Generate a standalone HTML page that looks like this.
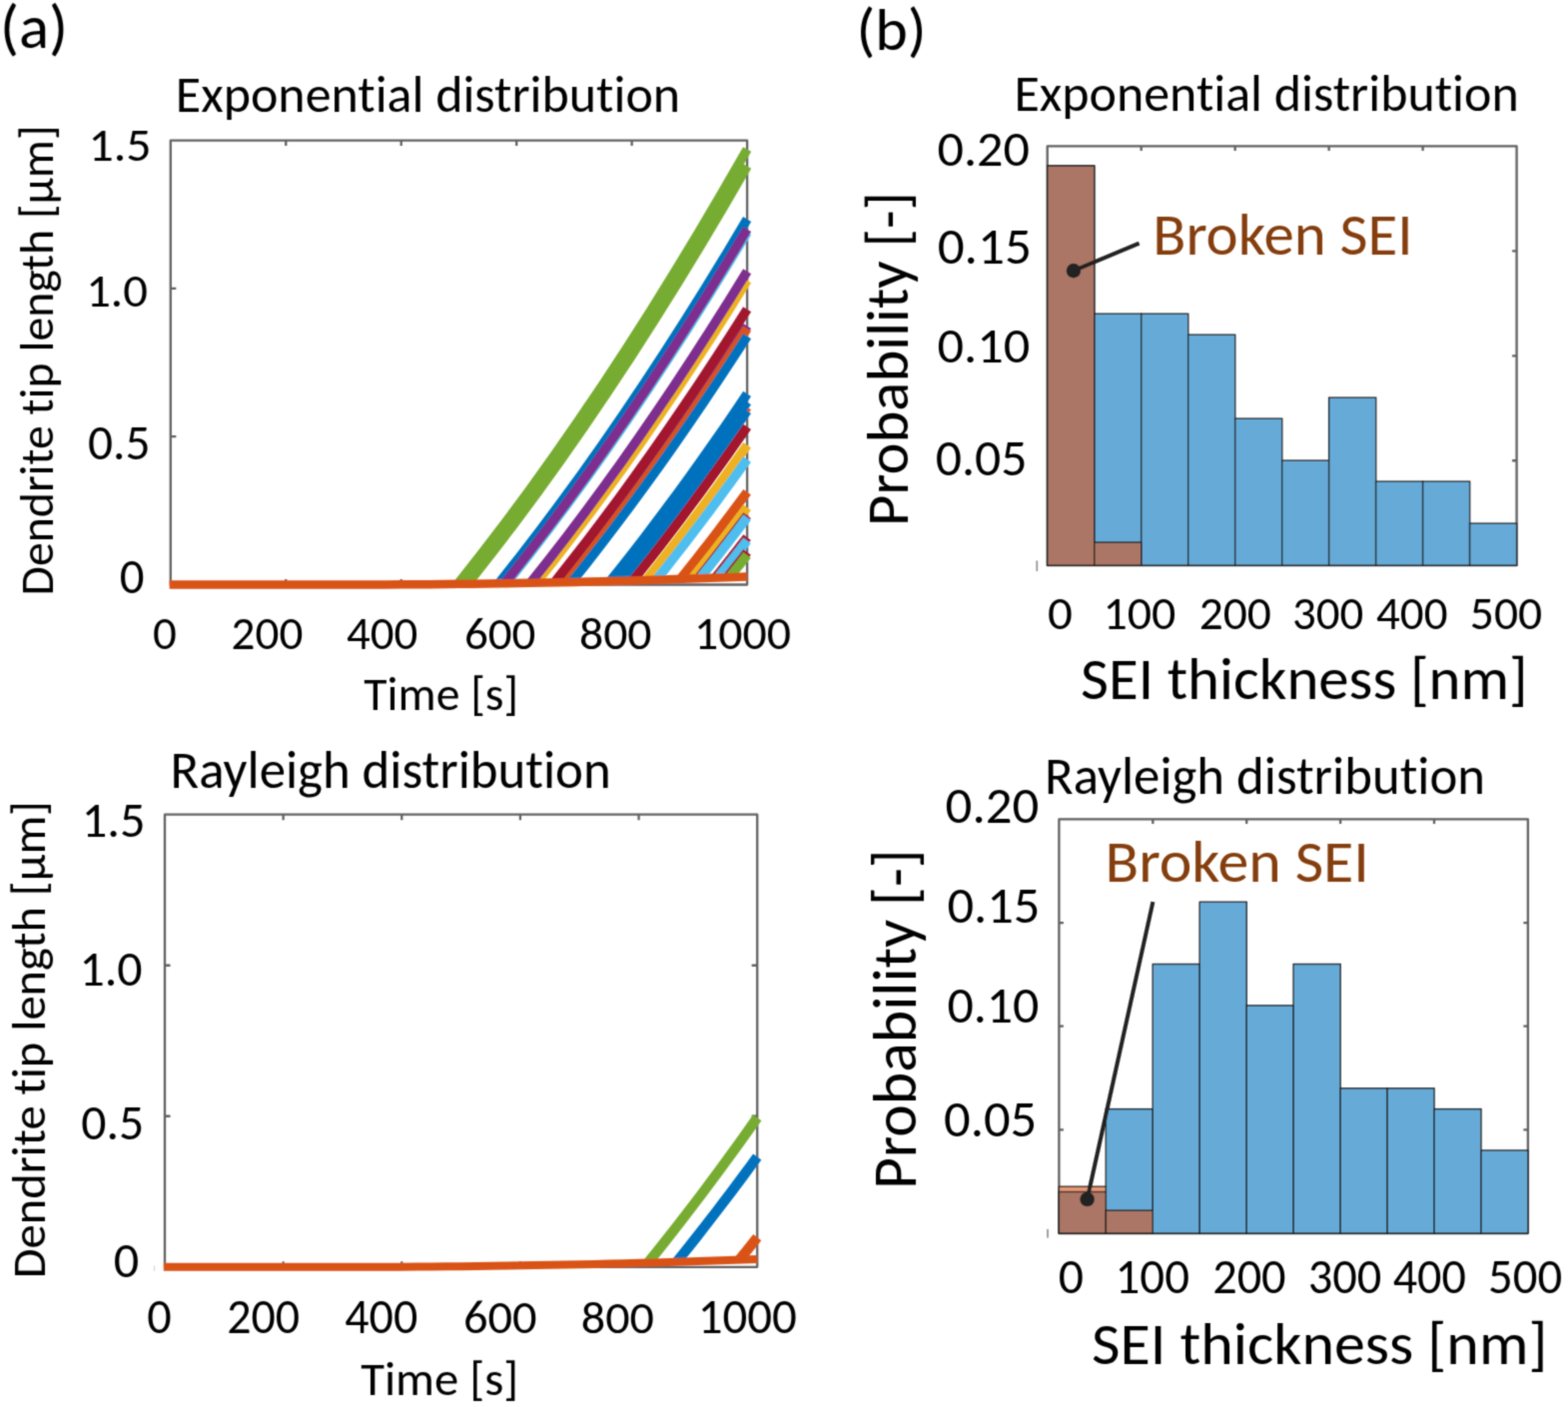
<!DOCTYPE html><html><head><meta charset="utf-8"><title>Figure</title><style>html,body{margin:0;padding:0;background:#fff;}svg{display:block;}text{font-family:Carlito, 'Liberation Sans', 'DejaVu Sans', sans-serif;font-variant-ligatures:none;font-size-adjust:0.4775;font-feature-settings:"liga" 0,"clig" 0,"kern" 1;}</style></head><body>
<svg width="1570" height="1409" viewBox="0 0 1570 1409">
<defs><filter id="soft" x="0" y="0" width="1570" height="1409" filterUnits="userSpaceOnUse"><feConvolveMatrix order="3" kernelMatrix="0.03607 0.11778 0.03607 0.11778 0.38462 0.11778 0.03607 0.11778 0.03607" edgeMode="duplicate" preserveAlpha="false"/></filter></defs>
<rect width="1570" height="1409" fill="#fff"/>
<g filter="url(#soft)">
<rect x="170.8" y="140.6" width="577.30" height="444.90" fill="none" stroke="#606060" stroke-width="2.3" stroke-linejoin="round"/>
<path d="M286.26 140.60V146.10M286.26 585.50V580.00M401.72 140.60V146.10M401.72 585.50V580.00M517.18 140.60V146.10M517.18 585.50V580.00M632.64 140.60V146.10M632.64 585.50V580.00M170.80 437.20H176.30M748.10 437.20H742.60M170.80 288.90H176.30M748.10 288.90H742.60" stroke="#606060" stroke-width="2.3" fill="none"/>
<path d="M458.42 584.86 L482.56 554.27 L506.70 522.64 L530.84 489.98 L554.98 456.28 L579.12 421.55 L603.26 385.79 L627.40 348.99 L651.54 311.16 L675.68 272.30 L699.82 232.40 L723.96 191.47 L748.10 149.50" stroke="#77AC30" stroke-width="9.4" fill="none" stroke-linejoin="round" stroke-linecap="butt"/>
<path d="M468.14 584.74 L491.47 555.19 L514.80 524.68 L538.13 493.20 L561.46 460.75 L584.79 427.34 L608.12 392.96 L631.45 357.62 L654.78 321.30 L678.11 284.03 L701.44 245.79 L724.77 206.58 L748.10 166.40" stroke="#77AC30" stroke-width="9.4" fill="none" stroke-linejoin="round" stroke-linecap="butt"/>
<path d="M499.35 584.32 L520.08 558.11 L540.81 531.14 L561.54 503.41 L582.27 474.91 L603.00 445.65 L623.72 415.63 L644.45 384.85 L665.18 353.30 L685.91 321.00 L706.64 287.92 L727.37 254.09 L748.10 219.50" stroke="#0072BD" stroke-width="9.4" fill="none" stroke-linejoin="round" stroke-linecap="butt"/>
<path d="M507.19 584.19 L527.26 558.82 L547.34 532.74 L567.42 505.94 L587.49 478.42 L607.57 450.19 L627.64 421.24 L647.72 391.58 L667.80 361.21 L687.87 330.11 L707.95 298.31 L728.02 265.78 L748.10 232.55" stroke="#4DBEEE" stroke-width="9.4" fill="none" stroke-linejoin="round" stroke-linecap="butt"/>
<path d="M505.40 584.22 L525.63 558.66 L545.85 532.37 L566.08 505.36 L586.30 477.62 L606.53 449.16 L626.75 419.97 L646.98 390.05 L667.20 359.41 L687.43 328.04 L707.65 295.95 L727.88 263.13 L748.10 229.58" stroke="#7E2F8E" stroke-width="9.4" fill="none" stroke-linejoin="round" stroke-linecap="butt"/>
<path d="M536.85 583.68 L554.46 561.47 L572.06 538.71 L589.67 515.40 L607.27 491.55 L624.87 467.14 L642.48 442.18 L660.08 416.68 L677.68 390.62 L695.29 364.01 L712.89 336.86 L730.50 309.15 L748.10 280.89" stroke="#EDB120" stroke-width="9.4" fill="none" stroke-linejoin="round" stroke-linecap="butt"/>
<path d="M531.13 583.78 L549.21 560.97 L567.29 537.57 L585.38 513.59 L603.46 489.04 L621.54 463.90 L639.62 438.18 L657.70 411.88 L675.78 385.01 L693.86 357.55 L711.94 329.51 L730.02 300.89 L748.10 271.70" stroke="#7E2F8E" stroke-width="9.4" fill="none" stroke-linejoin="round" stroke-linecap="butt"/>
<path d="M565.86 583.09 L581.05 563.96 L596.23 544.43 L611.42 524.48 L626.61 504.13 L641.79 483.37 L656.98 462.19 L672.17 440.61 L687.35 418.62 L702.54 396.22 L717.73 373.41 L732.91 350.20 L748.10 326.57" stroke="#7E2F8E" stroke-width="9.4" fill="none" stroke-linejoin="round" stroke-linecap="butt"/>
<path d="M555.01 583.32 L571.10 563.04 L587.19 542.30 L603.28 521.11 L619.37 499.45 L635.46 477.33 L651.55 454.76 L667.64 431.73 L683.74 408.23 L699.83 384.28 L715.92 359.87 L732.01 334.99 L748.10 309.66" stroke="#A2142F" stroke-width="9.4" fill="none" stroke-linejoin="round" stroke-linecap="butt"/>
<path d="M567.40 583.05 L582.45 564.09 L597.51 544.72 L612.57 524.96 L627.63 504.79 L642.69 484.21 L657.75 463.24 L672.81 441.86 L687.87 420.08 L702.92 397.90 L717.98 375.32 L733.04 352.33 L748.10 328.94" stroke="#D95319" stroke-width="9.4" fill="none" stroke-linejoin="round" stroke-linecap="butt"/>
<path d="M572.40 582.94 L587.05 564.51 L601.69 545.70 L616.33 526.50 L630.97 506.93 L645.61 486.98 L660.25 466.64 L674.89 445.93 L689.53 424.84 L704.18 403.36 L718.82 381.50 L733.46 359.27 L748.10 336.65" stroke="#0072BD" stroke-width="9.4" fill="none" stroke-linejoin="round" stroke-linecap="butt"/>
<path d="M619.96 581.77 L630.63 568.36 L641.31 554.75 L651.99 540.94 L662.67 526.93 L673.35 512.71 L684.03 498.30 L694.71 483.68 L705.39 468.85 L716.06 453.83 L726.74 438.60 L737.42 423.17 L748.10 407.54" stroke="#D95319" stroke-width="9.4" fill="none" stroke-linejoin="round" stroke-linecap="butt"/>
<path d="M610.98 582.00 L622.41 567.65 L633.84 553.07 L645.26 538.25 L656.69 523.21 L668.12 507.93 L679.54 492.42 L690.97 476.68 L702.39 460.70 L713.82 444.50 L725.25 428.06 L736.67 411.39 L748.10 394.49" stroke="#0072BD" stroke-width="9.4" fill="none" stroke-linejoin="round" stroke-linecap="butt"/>
<path d="M616.48 581.86 L627.45 568.09 L638.41 554.10 L649.38 539.90 L660.35 525.49 L671.32 510.86 L682.29 496.02 L693.26 480.97 L704.23 465.70 L715.19 450.22 L726.16 434.53 L737.13 418.62 L748.10 402.50" stroke="#0072BD" stroke-width="9.4" fill="none" stroke-linejoin="round" stroke-linecap="butt"/>
<path d="M622.63 581.69 L633.08 568.57 L643.54 555.25 L653.99 541.74 L664.45 528.03 L674.91 514.13 L685.36 500.04 L695.82 485.75 L706.28 471.27 L716.73 456.59 L727.19 441.72 L737.64 426.65 L748.10 411.40" stroke="#0072BD" stroke-width="9.4" fill="none" stroke-linejoin="round" stroke-linecap="butt"/>
<path d="M633.82 581.38 L643.34 569.44 L652.87 557.33 L662.39 545.06 L671.91 532.63 L681.44 520.04 L690.96 507.29 L700.48 494.38 L710.01 481.31 L719.53 468.08 L729.05 454.68 L738.58 441.13 L748.10 427.41" stroke="#A2142F" stroke-width="9.4" fill="none" stroke-linejoin="round" stroke-linecap="butt"/>
<path d="M646.88 581.00 L655.32 570.43 L663.75 559.73 L672.19 548.91 L680.62 537.95 L689.06 526.88 L697.49 515.67 L705.93 504.34 L714.36 492.89 L722.80 481.31 L731.23 469.60 L739.67 457.76 L748.10 445.80" stroke="#EDB120" stroke-width="9.4" fill="none" stroke-linejoin="round" stroke-linecap="butt"/>
<path d="M657.15 580.69 L664.73 571.20 L672.31 561.60 L679.89 551.90 L687.47 542.10 L695.05 532.20 L702.63 522.20 L710.20 512.09 L717.78 501.89 L725.36 491.58 L732.94 481.17 L740.52 470.65 L748.10 460.04" stroke="#4DBEEE" stroke-width="9.4" fill="none" stroke-linejoin="round" stroke-linecap="butt"/>
<path d="M681.25 579.92 L686.82 572.95 L692.39 565.93 L697.96 558.85 L703.53 551.72 L709.10 544.53 L714.67 537.28 L720.24 529.99 L725.82 522.63 L731.39 515.22 L736.96 507.76 L742.53 500.24 L748.10 492.66" stroke="#D95319" stroke-width="9.4" fill="none" stroke-linejoin="round" stroke-linecap="butt"/>
<path d="M692.93 579.53 L697.52 573.78 L702.12 568.00 L706.72 562.18 L711.32 556.32 L715.92 550.42 L720.51 544.48 L725.11 538.51 L729.71 532.50 L734.31 526.45 L738.90 520.37 L743.50 514.25 L748.10 508.09" stroke="#EDB120" stroke-width="9.4" fill="none" stroke-linejoin="round" stroke-linecap="butt"/>
<path d="M699.07 579.32 L703.15 574.21 L707.24 569.08 L711.33 563.91 L715.41 558.72 L719.50 553.49 L723.58 548.24 L727.67 542.96 L731.76 537.64 L735.84 532.30 L739.93 526.93 L744.01 521.53 L748.10 516.10" stroke="#A2142F" stroke-width="9.4" fill="none" stroke-linejoin="round" stroke-linecap="butt"/>
<path d="M700.67 579.26 L704.62 574.32 L708.57 569.36 L712.53 564.36 L716.48 559.34 L720.43 554.29 L724.38 549.22 L728.34 544.11 L732.29 538.98 L736.24 533.82 L740.19 528.63 L744.15 523.42 L748.10 518.17" stroke="#4DBEEE" stroke-width="9.4" fill="none" stroke-linejoin="round" stroke-linecap="butt"/>
<path d="M716.19 578.71 L718.85 575.39 L721.51 572.06 L724.17 568.71 L726.83 565.35 L729.48 561.98 L732.14 558.60 L734.80 555.21 L737.46 551.80 L740.12 548.38 L742.78 544.95 L745.44 541.50 L748.10 538.04" stroke="#A2142F" stroke-width="9.4" fill="none" stroke-linejoin="round" stroke-linecap="butt"/>
<path d="M718.77 578.61 L721.21 575.56 L723.66 572.50 L726.10 569.43 L728.55 566.35 L730.99 563.25 L733.43 560.15 L735.88 557.04 L738.32 553.91 L740.77 550.78 L743.21 547.63 L745.66 544.47 L748.10 541.31" stroke="#4DBEEE" stroke-width="9.4" fill="none" stroke-linejoin="round" stroke-linecap="butt"/>
<path d="M728.01 578.27 L729.68 576.18 L731.35 574.09 L733.03 571.99 L734.70 569.88 L736.38 567.77 L738.05 565.66 L739.73 563.54 L741.40 561.42 L743.08 559.29 L744.75 557.16 L746.43 555.02 L748.10 552.87" stroke="#A2142F" stroke-width="9.4" fill="none" stroke-linejoin="round" stroke-linecap="butt"/>
<path d="M730.39 578.18 L731.87 576.34 L733.34 574.49 L734.82 572.65 L736.30 570.79 L737.77 568.94 L739.25 567.08 L740.72 565.22 L742.20 563.35 L743.67 561.48 L745.15 559.60 L746.62 557.72 L748.10 555.84" stroke="#77AC30" stroke-width="9.4" fill="none" stroke-linejoin="round" stroke-linecap="butt"/>
<path d="M169.65 585.50 L185.23 585.50 L199.67 585.50 L214.10 585.50 L228.53 585.50 L242.96 585.50 L257.39 585.50 L271.83 585.50 L286.26 585.50 L300.69 585.50 L315.12 585.50 L329.56 585.50 L343.99 585.50 L358.42 585.49 L372.86 585.46 L387.29 585.41 L401.72 585.34 L416.15 585.24 L430.58 585.13 L445.02 585.00 L459.45 584.85 L473.88 584.67 L488.31 584.48 L502.75 584.26 L517.18 584.03 L531.61 583.77 L546.04 583.50 L560.48 583.20 L574.91 582.89 L589.34 582.55 L603.77 582.19 L618.21 581.81 L632.64 581.41 L647.07 581.00 L661.50 580.56 L675.94 580.10 L690.37 579.62 L704.80 579.12 L719.23 578.59 L733.67 578.05 L748.10 577.49" stroke="#D95319" stroke-width="8.5" fill="none" stroke-linejoin="round" stroke-linecap="butt"/>
<rect x="165.0" y="815.7" width="593.20" height="453.10" fill="none" stroke="#606060" stroke-width="2.3" stroke-linejoin="round"/>
<path d="M283.64 815.70V821.20M283.64 1268.80V1263.30M402.28 815.70V821.20M402.28 1268.80V1263.30M520.92 815.70V821.20M520.92 1268.80V1263.30M639.56 815.70V821.20M639.56 1268.80V1263.30M165.00 1117.77H170.50M758.20 1117.77H752.70M165.00 966.73H170.50M758.20 966.73H752.70" stroke="#606060" stroke-width="2.3" fill="none"/>
<path d="M648.85 1264.54 L657.96 1253.21 L667.08 1241.75 L676.19 1230.14 L685.30 1218.39 L694.41 1206.50 L703.53 1194.47 L712.64 1182.29 L721.75 1169.97 L730.86 1157.51 L739.98 1144.91 L749.09 1132.16 L758.20 1119.28" stroke="#77AC30" stroke-width="10.2" fill="none" stroke-linejoin="round" stroke-linecap="butt"/>
<path d="M677.55 1263.70 L684.27 1255.36 L690.99 1246.95 L697.71 1238.46 L704.43 1229.89 L711.16 1221.24 L717.88 1212.51 L724.60 1203.71 L731.32 1194.83 L738.04 1185.88 L744.76 1176.84 L751.48 1167.73 L758.20 1158.55" stroke="#0072BD" stroke-width="10.2" fill="none" stroke-linejoin="round" stroke-linecap="butt"/>
<path d="M740.27 1261.61 L741.77 1259.76 L743.26 1257.91 L744.75 1256.06 L746.25 1254.20 L747.74 1252.34 L749.24 1250.47 L750.73 1248.60 L752.22 1246.73 L753.72 1244.85 L755.21 1242.97 L756.71 1241.09 L758.20 1239.20" stroke="#D95319" stroke-width="10.2" fill="none" stroke-linejoin="round" stroke-linecap="butt"/>
<path d="M163.81 1268.80 L179.83 1268.80 L194.66 1268.80 L209.49 1268.80 L224.32 1268.80 L239.15 1268.80 L253.98 1268.80 L268.81 1268.80 L283.64 1268.80 L298.47 1268.80 L313.30 1268.80 L328.13 1268.80 L342.96 1268.80 L357.79 1268.79 L372.62 1268.76 L387.45 1268.71 L402.28 1268.64 L417.11 1268.55 L431.94 1268.44 L446.77 1268.31 L461.60 1268.16 L476.43 1267.99 L491.26 1267.80 L506.09 1267.59 L520.92 1267.36 L535.75 1267.11 L550.58 1266.84 L565.41 1266.55 L580.24 1266.24 L595.07 1265.90 L609.90 1265.55 L624.73 1265.18 L639.56 1264.79 L654.39 1264.38 L669.22 1263.95 L684.05 1263.50 L698.88 1263.03 L713.71 1262.54 L728.54 1262.03 L743.37 1261.50 L758.20 1260.95" stroke="#D95319" stroke-width="8.0" fill="none" stroke-linejoin="round" stroke-linecap="butt"/>
<rect x="1048.7" y="146.4" width="469.90" height="419.80" fill="none" stroke="#606060" stroke-width="2.3" stroke-linejoin="round"/>
<path d="M1142.68 146.40V150.90M1142.68 566.20V561.70M1236.66 146.40V150.90M1236.66 566.20V561.70M1330.64 146.40V150.90M1330.64 566.20V561.70M1424.62 146.40V150.90M1424.62 566.20V561.70M1048.70 461.25H1053.20M1518.60 461.25H1514.10M1048.70 356.30H1053.20M1518.60 356.30H1514.10M1048.70 251.35H1053.20M1518.60 251.35H1514.10" stroke="#606060" stroke-width="2.3" fill="none"/>
<rect x="1048.70" y="166.13" width="46.99" height="400.07" fill="#66AAD7" stroke="#1e1e1e" stroke-width="1.4"/>
<rect x="1095.69" y="314.32" width="46.99" height="251.88" fill="#66AAD7" stroke="#1e1e1e" stroke-width="1.4"/>
<rect x="1142.68" y="314.32" width="46.99" height="251.88" fill="#66AAD7" stroke="#1e1e1e" stroke-width="1.4"/>
<rect x="1189.67" y="335.31" width="46.99" height="230.89" fill="#66AAD7" stroke="#1e1e1e" stroke-width="1.4"/>
<rect x="1236.66" y="419.27" width="46.99" height="146.93" fill="#66AAD7" stroke="#1e1e1e" stroke-width="1.4"/>
<rect x="1283.65" y="461.25" width="46.99" height="104.95" fill="#66AAD7" stroke="#1e1e1e" stroke-width="1.4"/>
<rect x="1330.64" y="398.28" width="46.99" height="167.92" fill="#66AAD7" stroke="#1e1e1e" stroke-width="1.4"/>
<rect x="1377.63" y="482.24" width="46.99" height="83.96" fill="#66AAD7" stroke="#1e1e1e" stroke-width="1.4"/>
<rect x="1424.62" y="482.24" width="46.99" height="83.96" fill="#66AAD7" stroke="#1e1e1e" stroke-width="1.4"/>
<rect x="1471.61" y="524.22" width="46.99" height="41.98" fill="#66AAD7" stroke="#1e1e1e" stroke-width="1.4"/>
<rect x="1048.70" y="166.13" width="46.99" height="400.07" fill="#AB7665"/>
<rect x="1048.70" y="166.13" width="46.99" height="400.07" fill="none" stroke="#1e1e1e" stroke-width="1.4"/>
<rect x="1095.69" y="543.11" width="46.99" height="23.09" fill="#AB7665"/>
<rect x="1095.69" y="543.11" width="46.99" height="23.09" fill="none" stroke="#1e1e1e" stroke-width="1.4"/>
<rect x="1060.4" y="820.4" width="469.50" height="414.60" fill="none" stroke="#606060" stroke-width="2.3" stroke-linejoin="round"/>
<path d="M1154.30 820.40V824.90M1154.30 1235.00V1230.50M1248.20 820.40V824.90M1248.20 1235.00V1230.50M1342.10 820.40V824.90M1342.10 1235.00V1230.50M1436.00 820.40V824.90M1436.00 1235.00V1230.50M1060.40 1131.35H1064.90M1529.90 1131.35H1525.40M1060.40 1027.70H1064.90M1529.90 1027.70H1525.40M1060.40 924.05H1064.90M1529.90 924.05H1525.40" stroke="#606060" stroke-width="2.3" fill="none"/>
<rect x="1060.40" y="1193.54" width="46.95" height="41.46" fill="#66AAD7" stroke="#1e1e1e" stroke-width="1.4"/>
<rect x="1107.35" y="1110.62" width="46.95" height="124.38" fill="#66AAD7" stroke="#1e1e1e" stroke-width="1.4"/>
<rect x="1154.30" y="965.51" width="46.95" height="269.49" fill="#66AAD7" stroke="#1e1e1e" stroke-width="1.4"/>
<rect x="1201.25" y="903.32" width="46.95" height="331.68" fill="#66AAD7" stroke="#1e1e1e" stroke-width="1.4"/>
<rect x="1248.20" y="1006.97" width="46.95" height="228.03" fill="#66AAD7" stroke="#1e1e1e" stroke-width="1.4"/>
<rect x="1295.15" y="965.51" width="46.95" height="269.49" fill="#66AAD7" stroke="#1e1e1e" stroke-width="1.4"/>
<rect x="1342.10" y="1089.89" width="46.95" height="145.11" fill="#66AAD7" stroke="#1e1e1e" stroke-width="1.4"/>
<rect x="1389.05" y="1089.89" width="46.95" height="145.11" fill="#66AAD7" stroke="#1e1e1e" stroke-width="1.4"/>
<rect x="1436.00" y="1110.62" width="46.95" height="124.38" fill="#66AAD7" stroke="#1e1e1e" stroke-width="1.4"/>
<rect x="1482.95" y="1152.08" width="46.95" height="82.92" fill="#66AAD7" stroke="#1e1e1e" stroke-width="1.4"/>
<rect x="1060.40" y="1188.36" width="46.95" height="5.18" fill="#E89875"/>
<rect x="1060.40" y="1193.54" width="46.95" height="41.46" fill="#AB7665"/>
<path d="M1060.40 1193.54H1107.35" stroke="#1e1e1e" stroke-width="1.4" opacity="0.75"/>
<rect x="1060.40" y="1188.36" width="46.95" height="46.64" fill="none" stroke="#1e1e1e" stroke-width="1.4"/>
<rect x="1107.35" y="1212.20" width="46.95" height="22.80" fill="#AB7665"/>
<rect x="1107.35" y="1212.20" width="46.95" height="22.80" fill="none" stroke="#1e1e1e" stroke-width="1.4"/>
<path d="M1074.9 271.1L1140.6 243.6" stroke="#222" stroke-width="4" stroke-linecap="butt"/>
<circle cx="1074.9" cy="271.1" r="7.3" fill="#222"/>
<path d="M1088.6 1201L1154.4 903.1" stroke="#222" stroke-width="4" stroke-linecap="butt"/>
<circle cx="1088.6" cy="1201" r="7.3" fill="#222"/>
<path d="M1038.3 562V571.5" stroke="#8a8a8a" stroke-width="1.6" stroke-linecap="round"/>
<path d="M1049.0 1231.5V1239" stroke="#8a8a8a" stroke-width="1.6" stroke-linecap="round"/>
<path d="M154.5 1267.5V1273" stroke="#d8d8d8" stroke-width="1.2"/>
<text id="t0" x="-0.04" y="47.83" font-size="60.86" textLength="68.02" lengthAdjust="spacingAndGlyphs" fill="#000">(a)</text>
<text id="t1" x="857.51" y="50.04" font-size="60.06" textLength="70.15" lengthAdjust="spacingAndGlyphs" fill="#000">(b)</text>
<text id="t2" x="175.80" y="112.40" font-size="52.00" textLength="505.32" lengthAdjust="spacingAndGlyphs" fill="#000">Exponential distribution</text>
<text id="t3" x="1015.46" y="110.70" font-size="51.60" textLength="505.27" lengthAdjust="spacingAndGlyphs" fill="#000">Exponential distribution</text>
<text id="t4" x="170.62" y="788.70" font-size="52.70" textLength="441.11" lengthAdjust="spacingAndGlyphs" fill="#000">Rayleigh distribution</text>
<text id="t5" x="1046.11" y="795.10" font-size="52.40" textLength="440.92" lengthAdjust="spacingAndGlyphs" fill="#000">Rayleigh distribution</text>
<text id="t6" x="88.57" y="160.84" font-size="47.82" textLength="63.06" lengthAdjust="spacingAndGlyphs" fill="#000">1.5</text>
<text id="t7" x="86.17" y="307.04" font-size="47.76" textLength="61.67" lengthAdjust="spacingAndGlyphs" fill="#000">1.0</text>
<text id="t8" x="87.93" y="459.83" font-size="48.67" textLength="62.53" lengthAdjust="spacingAndGlyphs" fill="#000">0.5</text>
<text id="t9" x="119.85" y="594.23" font-size="48.82" textLength="24.76" lengthAdjust="spacingAndGlyphs" fill="#000">0</text>
<text id="t10" x="153.06" y="649.54" font-size="47.45" textLength="23.84" lengthAdjust="spacingAndGlyphs" fill="#000">0</text>
<text id="t11" x="231.60" y="649.54" font-size="47.45" textLength="71.80" lengthAdjust="spacingAndGlyphs" fill="#000">200</text>
<text id="t12" x="347.06" y="649.54" font-size="47.45" textLength="71.33" lengthAdjust="spacingAndGlyphs" fill="#000">400</text>
<text id="t13" x="464.94" y="649.56" font-size="45.71" textLength="71.43" lengthAdjust="spacingAndGlyphs" fill="#000">600</text>
<text id="t14" x="579.94" y="649.56" font-size="45.22" textLength="72.60" lengthAdjust="spacingAndGlyphs" fill="#000">800</text>
<text id="t15" x="695.05" y="649.54" font-size="47.45" textLength="97.07" lengthAdjust="spacingAndGlyphs" fill="#000">1000</text>
<text id="t16" x="364.39" y="710.50" font-size="46.50" textLength="154.68" lengthAdjust="spacingAndGlyphs" fill="#000">Time [s]</text>
<text id="t17" x="52.70" y="596.44" transform="rotate(-90 52.70 596.44)" font-size="48.00" textLength="471.09" lengthAdjust="spacingAndGlyphs" fill="#000">Dendrite tip length [μm]</text>
<text id="t18" x="81.72" y="838.22" font-size="50.11" textLength="63.82" lengthAdjust="spacingAndGlyphs" fill="#000">1.5</text>
<text id="t19" x="79.52" y="987.23" font-size="49.58" textLength="63.12" lengthAdjust="spacingAndGlyphs" fill="#000">1.0</text>
<text id="t20" x="81.23" y="1141.43" font-size="49.13" textLength="62.90" lengthAdjust="spacingAndGlyphs" fill="#000">0.5</text>
<text id="t21" x="113.72" y="1278.53" font-size="49.13" textLength="25.45" lengthAdjust="spacingAndGlyphs" fill="#000">0</text>
<text id="t22" x="147.35" y="1335.24" font-size="48.37" textLength="24.45" lengthAdjust="spacingAndGlyphs" fill="#000">0</text>
<text id="t23" x="227.16" y="1335.24" font-size="48.37" textLength="72.94" lengthAdjust="spacingAndGlyphs" fill="#000">200</text>
<text id="t24" x="345.25" y="1335.24" font-size="48.37" textLength="72.95" lengthAdjust="spacingAndGlyphs" fill="#000">400</text>
<text id="t25" x="463.92" y="1335.25" font-size="46.59" textLength="73.57" lengthAdjust="spacingAndGlyphs" fill="#000">600</text>
<text id="t26" x="581.87" y="1335.25" font-size="46.09" textLength="73.12" lengthAdjust="spacingAndGlyphs" fill="#000">800</text>
<text id="t27" x="698.69" y="1335.24" font-size="48.37" textLength="99.24" lengthAdjust="spacingAndGlyphs" fill="#000">1000</text>
<text id="t28" x="361.18" y="1396.60" font-size="47.30" textLength="157.99" lengthAdjust="spacingAndGlyphs" fill="#000">Time [s]</text>
<text id="t29" x="45.00" y="1280.29" transform="rotate(-90 45.00 1280.29)" font-size="48.00" textLength="478.29" lengthAdjust="spacingAndGlyphs" fill="#000">Dendrite tip length [μm]</text>
<text id="t30" x="938.49" y="166.33" font-size="49.89" textLength="92.37" lengthAdjust="spacingAndGlyphs" fill="#000">0.20</text>
<text id="t31" x="938.68" y="263.92" font-size="50.65" textLength="94.24" lengthAdjust="spacingAndGlyphs" fill="#000">0.15</text>
<text id="t32" x="938.49" y="363.23" font-size="49.89" textLength="92.78" lengthAdjust="spacingAndGlyphs" fill="#000">0.10</text>
<text id="t33" x="936.82" y="475.52" font-size="50.65" textLength="91.73" lengthAdjust="spacingAndGlyphs" fill="#000">0.05</text>
<text id="t34" x="1049.11" y="629.74" font-size="47.60" textLength="24.86" lengthAdjust="spacingAndGlyphs" fill="#000">0</text>
<text id="t35" x="1104.51" y="629.74" font-size="47.60" textLength="72.82" lengthAdjust="spacingAndGlyphs" fill="#000">100</text>
<text id="t36" x="1200.70" y="629.74" font-size="47.60" textLength="72.22" lengthAdjust="spacingAndGlyphs" fill="#000">200</text>
<text id="t37" x="1293.98" y="629.74" font-size="47.60" textLength="71.22" lengthAdjust="spacingAndGlyphs" fill="#000">300</text>
<text id="t38" x="1378.06" y="629.74" font-size="47.60" textLength="71.45" lengthAdjust="spacingAndGlyphs" fill="#000">400</text>
<text id="t39" x="1471.75" y="629.74" font-size="47.60" textLength="72.38" lengthAdjust="spacingAndGlyphs" fill="#000">500</text>
<text id="t40" x="1082.05" y="700.00" font-size="59.00" textLength="447.70" lengthAdjust="spacingAndGlyphs" fill="#000">SEI thickness [nm]</text>
<text id="t41" x="909.00" y="527.00" transform="rotate(-90 909.00 527.00)" font-size="60.00" textLength="335.23" lengthAdjust="spacingAndGlyphs" fill="#000">Probability [-]</text>
<text id="t42" x="1154.27" y="254.50" font-size="59.20" textLength="260.26" lengthAdjust="spacingAndGlyphs" fill="#843C0C">Broken SEI</text>
<text id="t43" x="946.62" y="824.21" font-size="51.86" textLength="93.66" lengthAdjust="spacingAndGlyphs" fill="#000">0.20</text>
<text id="t44" x="948.41" y="923.52" font-size="51.10" textLength="93.05" lengthAdjust="spacingAndGlyphs" fill="#000">0.15</text>
<text id="t45" x="948.45" y="1023.81" font-size="52.02" textLength="91.99" lengthAdjust="spacingAndGlyphs" fill="#000">0.10</text>
<text id="t46" x="945.04" y="1138.11" font-size="52.02" textLength="93.19" lengthAdjust="spacingAndGlyphs" fill="#000">0.05</text>
<text id="t47" x="1059.81" y="1294.64" font-size="48.37" textLength="25.23" lengthAdjust="spacingAndGlyphs" fill="#000">0</text>
<text id="t48" x="1116.59" y="1294.64" font-size="48.37" textLength="74.33" lengthAdjust="spacingAndGlyphs" fill="#000">100</text>
<text id="t49" x="1214.15" y="1294.64" font-size="48.37" textLength="73.46" lengthAdjust="spacingAndGlyphs" fill="#000">200</text>
<text id="t50" x="1309.74" y="1294.64" font-size="48.37" textLength="73.57" lengthAdjust="spacingAndGlyphs" fill="#000">300</text>
<text id="t51" x="1394.65" y="1294.64" font-size="48.37" textLength="73.26" lengthAdjust="spacingAndGlyphs" fill="#000">400</text>
<text id="t52" x="1490.02" y="1294.64" font-size="48.37" textLength="74.20" lengthAdjust="spacingAndGlyphs" fill="#000">500</text>
<text id="t53" x="1093.13" y="1366.30" font-size="59.40" textLength="456.27" lengthAdjust="spacingAndGlyphs" fill="#000">SEI thickness [nm]</text>
<text id="t54" x="917.10" y="1190.99" transform="rotate(-90 917.10 1190.99)" font-size="61.00" textLength="340.75" lengthAdjust="spacingAndGlyphs" fill="#000">Probability [-]</text>
<text id="t55" x="1106.51" y="883.00" font-size="59.00" textLength="264.41" lengthAdjust="spacingAndGlyphs" fill="#843C0C">Broken SEI</text>
</g>
</svg></body></html>
